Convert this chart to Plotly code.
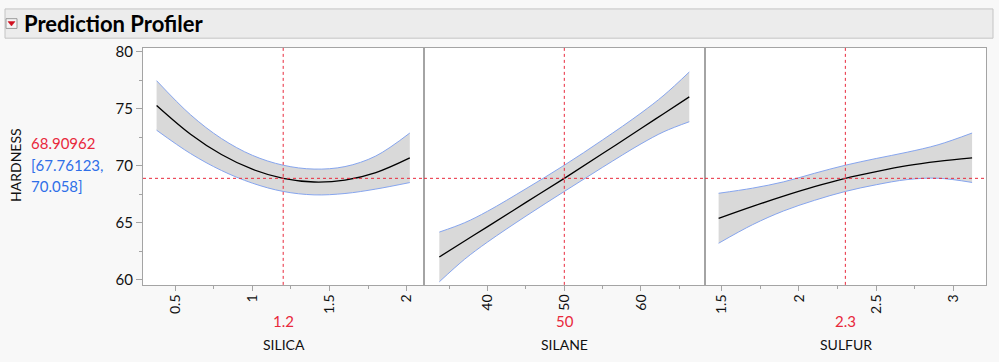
import plotly.graph_objects as go

# ---------------- data ----------------
response_name = "HARDNESS"
pred_text = "68.90962"
ci_text_1 = "[67.76123,"
ci_text_2 = "70.058]"
pred_value = 68.90962

factor_names = ["SILICA", "SILANE", "SULFUR"]
factor_current = [1.2, 50, 2.3]
factor_current_text = ["1.2", "50", "2.3"]

silica = [0.38, 0.6, 0.8, 1.0, 1.2, 1.4, 1.6, 1.8, 2.02]
silica_pred = [75.30, 72.78, 71.00, 69.71, 68.91, 68.59, 68.76, 69.42, 70.71]
silica_upper = [77.47, 74.48, 72.40, 70.93, 70.06, 69.72, 69.94, 70.87, 72.88]
silica_lower = [73.13, 71.08, 69.60, 68.49, 67.76, 67.46, 67.58, 67.97, 68.54]

silane = [33.7, 37, 40, 45, 50, 55, 60, 63, 66.3]
silane_pred = [62.02, 63.42, 64.68, 66.80, 68.91, 71.08, 73.28, 74.60, 76.05]
silane_upper = [64.20, 65.02, 66.03, 68.00, 70.06, 72.28, 74.63, 76.20, 78.23]
silane_lower = [59.84, 61.82, 63.33, 65.60, 67.76, 69.88, 71.93, 73.00, 73.87]

sulfur = [1.48, 1.7, 1.9, 2.1, 2.3, 2.5, 2.7, 2.9, 3.12]
sulfur_pred = [65.40, 66.45, 67.35, 68.18, 68.91, 69.50, 70.02, 70.40, 70.71]
sulfur_upper = [67.60, 68.05, 68.60, 69.35, 70.06, 70.65, 71.20, 71.85, 72.88]
sulfur_lower = [63.22, 64.85, 66.05, 66.98, 67.76, 68.35, 68.80, 68.92, 68.55]

y_ticks = [60, 65, 70, 75, 80]
silica_ticks = [0.5, 1, 1.5, 2]
silane_ticks = [40, 50, 60]
sulfur_ticks = [1.5, 2, 2.5, 3]

# ---------------- styling ----------------
W, H = 999, 362
FONT = "Lato"
RED = "#e8293c"
BLUE = "#2f6fe8"
BAND_EDGE = "#86a5ee"
BAND_FILL = "#d9d9d9"
FRAME = "#a4a4a4"

def px(x):
    return x / W

def py(y):
    return 1 - y / H

panels = [
    (silica, silica_pred, silica_upper, silica_lower, silica_ticks, [0.292, 2.112], 0.25),
    (silane, silane_pred, silane_upper, silane_lower, silane_ticks, [31.7, 68.35], 5),
    (sulfur, sulfur_pred, sulfur_upper, sulfur_lower, sulfur_ticks, [1.392, 3.21], 0.25),
]
x_edges = [143, 424, 705, 986]
y_dom = [py(286), py(43)]
y_range = [59.57, 80.34]

fig = go.Figure()
layout = dict(
    width=W, height=H,
    margin=dict(l=0, r=0, t=0, b=0),
    paper_bgcolor="#f8f8f8",
    plot_bgcolor="white",
    showlegend=False,
    font=dict(family=FONT, size=14, color="#111111"),
)

shapes = []
annotations = []

for i, (xs, pred, up, lo, ticks, xr, minor_step) in enumerate(panels):
    n = "" if i == 0 else str(i + 1)
    xa, ya = "x" + n, "y" + n
    fig.add_trace(go.Scatter(x=xs, y=up, xaxis=xa, yaxis=ya, mode="lines",
                             line=dict(color=BAND_EDGE, width=1, shape="spline"),
                             hoverinfo="skip"))
    fig.add_trace(go.Scatter(x=xs, y=lo, xaxis=xa, yaxis=ya, mode="lines",
                             fill="tonexty", fillcolor=BAND_FILL,
                             line=dict(color=BAND_EDGE, width=1, shape="spline"),
                             hoverinfo="skip"))
    fig.add_trace(go.Scatter(x=xs, y=pred, xaxis=xa, yaxis=ya, mode="lines",
                             line=dict(color="black", width=1.3, shape="spline")))

    layout["xaxis" + n] = dict(
        domain=[px(x_edges[i]), px(x_edges[i + 1])],
        range=xr, anchor=ya,
        tickvals=ticks, ticktext=[("%g" % t) for t in ticks],
        tickangle=-90, ticks="outside", ticklen=5, tickcolor=FRAME,
        ticklabelstandoff=-2,
        tickfont=dict(size=14, family=FONT, color="#111111"),
        minor=dict(dtick=minor_step, tick0=0, ticks="outside", ticklen=3, tickcolor=FRAME),
        showgrid=False, zeroline=False,
        showline=True, linecolor=FRAME, linewidth=1, mirror=True,
    )
    ydef = dict(
        domain=y_dom, range=y_range, anchor=xa,
        showgrid=False, zeroline=False,
        showline=True, linecolor=FRAME, linewidth=1, mirror=True,
    )
    if i == 0:
        ydef.update(tickvals=y_ticks, ticks="outside", ticklen=6, tickcolor=FRAME,
                    tickfont=dict(size=15, family=FONT, color="#111111"),
                    minor=dict(dtick=2.5, tick0=0, ticks="outside", ticklen=3, tickcolor=FRAME))
    else:
        ydef.update(showticklabels=False, ticks="", matches="y")
    layout["yaxis" + n] = ydef

    # current-value crosshairs
    shapes.append(dict(type="line", xref=xa, yref=ya + " domain",
                       x0=factor_current[i], x1=factor_current[i], y0=0, y1=1,
                       line=dict(color=RED, width=1, dash="dot")))
    shapes.append(dict(type="line", xref=xa + " domain", yref=ya,
                       x0=0, x1=1, y0=pred_value, y1=pred_value,
                       line=dict(color=RED, width=1, dash="dot")))

    cx = px((x_edges[i] + x_edges[i + 1]) / 2)
    annotations.append(dict(x=cx, y=py(323), xref="paper", yref="paper",
                            xanchor="center", yanchor="middle",
                            text=factor_current_text[i], showarrow=False,
                            font=dict(size=15, color=RED, family=FONT)))
    annotations.append(dict(x=cx, y=py(347), xref="paper", yref="paper",
                            xanchor="center", yanchor="middle",
                            text=factor_names[i], showarrow=False,
                            font=dict(size=14, color="#111111", family=FONT)))

# header bar
shapes.append(dict(type="rect", xref="paper", yref="paper",
                   x0=px(5), x1=px(993), y0=py(33), y1=py(3),
                   fillcolor="#ececec", line=dict(color="#c4c4c4", width=1), layer="below"))
shapes.append(dict(type="rect", xref="paper", yref="paper",
                   x0=px(6), x1=px(17), y0=py(23), y1=py(13),
                   fillcolor="#f4f4f4", line=dict(color="#9a9a9a", width=1)))
shapes.append(dict(type="path", xref="paper", yref="paper",
                   path="M %f %f L %f %f L %f %f Z" % (px(8), py(16), px(15), py(16), px(11.5), py(20.5)),
                   fillcolor="#d01020", line=dict(color="#d01020", width=0.5)))
annotations.append(dict(x=px(22), y=py(18), xref="paper", yref="paper",
                        xanchor="left", yanchor="middle", showarrow=False,
                        text="<b>Prediction Profiler</b>",
                        font=dict(size=22, color="black", family=FONT)))

# response labels on left
annotations.append(dict(x=px(16), y=py(163), xref="paper", yref="paper",
                        xanchor="center", yanchor="middle",
                        text=response_name, textangle=-90, showarrow=False,
                        font=dict(size=14, color="#111111", family=FONT)))
annotations.append(dict(x=px(29), y=py(140), xref="paper", yref="paper",
                        xanchor="left", yanchor="middle", text=pred_text, showarrow=False,
                        font=dict(size=15, color=RED, family=FONT)))
annotations.append(dict(x=px(29), y=py(163), xref="paper", yref="paper",
                        xanchor="left", yanchor="middle", text=ci_text_1, showarrow=False,
                        font=dict(size=15, color=BLUE, family=FONT)))
annotations.append(dict(x=px(29), y=py(185), xref="paper", yref="paper",
                        xanchor="left", yanchor="middle", text=ci_text_2, showarrow=False,
                        font=dict(size=15, color=BLUE, family=FONT)))

layout["shapes"] = shapes
layout["annotations"] = annotations
fig.update_layout(**layout)
fig.write_html("out.html", config={"displayModeBar": False},
               post_script="document.body.style.margin='0px';document.body.style.overflow='hidden';")
